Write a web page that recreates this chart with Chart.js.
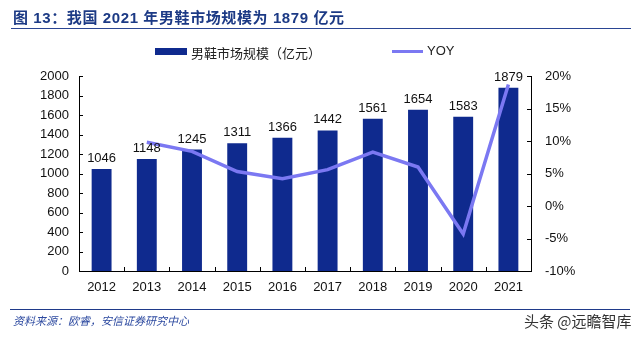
<!DOCTYPE html>
<html><head><meta charset="utf-8">
<script src="https://cdn.jsdelivr.net/npm/chart.js@4"></script>
<style>
html,body{margin:0;padding:0;background:#fff;}
#wrap{position:relative;width:640px;height:337px;overflow:hidden;}
#c{position:absolute;left:0;top:0;}
.t{position:absolute;white-space:nowrap;}
</style></head><body>
<div id="wrap">
<canvas id="c" width="640" height="337"></canvas>
<div class="t" style="left:13px;top:6px;font:bold 15px 'Liberation Sans','Noto Sans CJK SC',sans-serif;color:#1c3a85;letter-spacing:0.6px;">图 13：我国 2021 年男鞋市场规模为 1879 亿元</div>
<div class="t" style="left:11px;top:28px;width:620px;height:1px;background:#2a4593;"></div>
<div class="t" style="left:155px;top:48px;width:32px;height:7px;background:#0f2a8e;"></div>
<div class="t" style="left:191px;top:43px;font:13px 'Noto Sans CJK SC',sans-serif;color:#222;">男鞋市场规模（亿元）</div>
<div class="t" style="left:392px;top:50px;width:31px;height:3px;background:#7b78f2;"></div>
<div class="t" style="left:427px;top:43px;font:13px 'Liberation Sans',sans-serif;color:#222;">YOY</div>
<div class="t" style="left:10px;top:309px;width:620px;height:1px;background:#1f3a8a;"></div>
<div class="t" style="left:13px;top:312px;font:italic 11px 'Noto Sans CJK SC',sans-serif;color:#2d4aa0;">资料来源：欧睿，安信证券研究中心</div>
<div class="t" style="left:524px;top:310px;font:15px 'Noto Sans CJK SC',sans-serif;color:#333;">头条 @远瞻智库</div>
</div>
<script>
const years = ['2012','2013','2014','2015','2016','2017','2018','2019','2020','2021'];
const marketSize = [1046,1148,1245,1311,1366,1442,1561,1654,1583,1879];
const yoy = [null,9.8,8.4,5.3,4.2,5.6,8.3,6.0,-4.3,18.7];
const leftTicks = [0,200,400,600,800,1000,1200,1400,1600,1800,2000];
const rightTicks = [-10,-5,0,5,10,15,20];

const FONT = {family:"'Liberation Sans', Arial, sans-serif", size:13};

const inwardTicks = {
  id:'inwardTicks',
  afterDatasetsDraw(chart){
    const ctx = chart.ctx;
    const x = chart.scales.x, y = chart.scales.y, y1 = chart.scales.y1;
    ctx.save();
    ctx.strokeStyle = '#000'; ctx.lineWidth = 1;
    ctx.beginPath();
    leftTicks.forEach(v=>{const p=Math.round(y.getPixelForValue(v))+0.5; ctx.moveTo(x.left,p); ctx.lineTo(x.left+4,p);});
    rightTicks.forEach(v=>{const p=Math.round(y1.getPixelForValue(v))+0.5; ctx.moveTo(x.right-4,p); ctx.lineTo(x.right,p);});
    const slot = (x.right - x.left)/years.length;
    for(let i=1;i<years.length;i++){const p=Math.round(x.left+slot*i)+0.5; ctx.moveTo(p,y.bottom); ctx.lineTo(p,y.bottom-4);}
    ctx.stroke();
    // data labels above bars
    ctx.fillStyle = '#111';
    ctx.font = "13px 'Liberation Sans', Arial, sans-serif";
    ctx.textAlign = 'center'; ctx.textBaseline = 'bottom';
    chart.getDatasetMeta(1).data.forEach((bar,i)=>{
      ctx.fillText(String(marketSize[i]), bar.x, bar.y - 4);
    });
    ctx.restore();
  }
};

new Chart(document.getElementById('c'), {
  data:{
    labels: years,
    datasets:[
      {type:'line', label:'YOY', data:yoy, yAxisID:'y1', borderColor:'#7b78f2', borderWidth:3.5, pointRadius:0, tension:0, order:0, spanGaps:false},
      {type:'bar', label:'男鞋市场规模（亿元）', data:marketSize, yAxisID:'y', backgroundColor:'#0f2a8e', barPercentage:0.44, categoryPercentage:1, order:1}
    ]
  },
  options:{
    responsive:false, animation:false, devicePixelRatio:1,
    layout:{padding:{left:0,right:0,top:76,bottom:0}},
    plugins:{legend:{display:false}, tooltip:{enabled:false}},
    scales:{
      x:{
        grid:{display:false, drawTicks:false},
        border:{display:true, color:'#000', width:1},
        ticks:{color:'#111', font:FONT, padding:9, maxRotation:0},
        afterFit(s){s.height = 66;}
      },
      y:{
        position:'left', min:0, max:2000,
        afterBuildTicks(s){s.ticks = leftTicks.map(v=>({value:v}));},
        grid:{display:false, drawTicks:false},
        border:{display:true, color:'#000', width:1},
        ticks:{color:'#111', font:FONT, padding:10, callback:v=>String(v)},
        afterFit(s){s.width = 79;}
      },
      y1:{
        position:'right', min:-10, max:20,
        afterBuildTicks(s){s.ticks = rightTicks.map(v=>({value:v}));},
        grid:{display:false, drawTicks:false},
        border:{display:true, color:'#000', width:1},
        ticks:{color:'#111', font:FONT, padding:14, callback:v=>v+'%'},
        afterFit(s){s.width = 109;}
      }
    }
  },
  plugins:[inwardTicks]
});
</script>
</body></html>
